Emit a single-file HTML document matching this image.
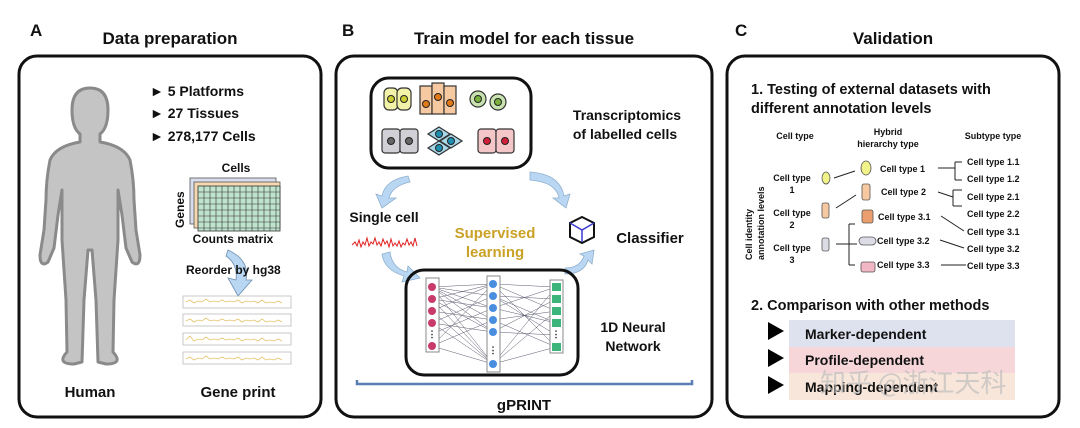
<!DOCTYPE html>
<html><head><meta charset="utf-8"><style>
html,body{margin:0;padding:0;background:#fff}
svg{display:block}
text{font-family:"Liberation Sans",Arial,sans-serif;font-weight:bold;fill:#111}
</style></head><body>
<svg width="1080" height="428" viewBox="0 0 1080 428" xmlns="http://www.w3.org/2000/svg">
<!-- Panel A -->
<text x="30" y="36" font-size="17">A</text>
<text x="170" y="44" font-size="17" text-anchor="middle">Data preparation</text>
<rect x="19" y="56" width="302" height="361" rx="18" fill="none" stroke="#111" stroke-width="3"/>
<!-- human -->
<g fill="#c4c4c4" stroke="#8a8a8a" stroke-width="3" stroke-linejoin="round">
<path d="M90,88 Q108,88 108,110 Q108,128 100,134 L100,142 Q124,146 130,160 Q134,180 134,200 L136,230 L140,255 Q140,268 132,262 L126,248 L122,215 L118,190 L118,240 L114,300 L113,352 Q124,364 106,364 L98,362 L96,300 L92,250 L88,250 L84,300 L82,362 L74,364 Q56,364 67,352 L66,300 L62,240 L62,190 L58,215 L54,248 L48,262 Q40,268 40,255 L44,230 L46,200 Q46,180 50,160 Q56,146 80,142 L80,134 Q72,128 72,110 Q72,88 90,88 Z"/>
</g>
<text x="90" y="397" font-size="15" text-anchor="middle">Human</text>
<g font-size="14">
<text x="150" y="96">► 5 Platforms</text>
<text x="150" y="118">► 27 Tissues</text>
<text x="150" y="141">► 278,177 Cells</text>
</g>
<text x="236" y="172" font-size="12" text-anchor="middle">Cells</text>
<rect x="190" y="178" width="86" height="46" fill="#d8dcec" stroke="#555" stroke-width=".8"/>
<rect x="194" y="182" width="86" height="46" fill="#f5d7b0" stroke="#555" stroke-width=".8"/>
<rect x="198" y="186" width="82" height="45" fill="#bfe3cc" stroke="#333" stroke-width=".8"/>
<g stroke="#333" stroke-width=".6">
<path d="M198,192H280M198,198H280M198,204H280M198,210H280M198,216H280M198,222H280M198,228H280"/>
<path d="M204,186V231M210,186V231M216,186V231M222,186V231M228,186V231M234,186V231M240,186V231M246,186V231M252,186V231M258,186V231M264,186V231M270,186V231M276,186V231"/>
</g>
<text x="0" y="0" font-size="12" transform="translate(184,228) rotate(-90)">Genes</text>
<text x="233" y="243" font-size="12" text-anchor="middle">Counts matrix</text>
<path d="M228,250 Q250,260 246,280 L252,280 L238,296 L228,278 L236,280 Q238,264 226,256 Z" fill="#b9d7f2" stroke="#6d8fb0" stroke-width=".8"/>
<text x="186" y="274" font-size="12">Reorder by  hg38</text>
<g fill="none" stroke-width=".8">
<rect x="183" y="296" width="108" height="12" stroke="#bbb"/>
<rect x="183" y="314" width="108" height="12" stroke="#bbb"/>
<rect x="183" y="333" width="108" height="12" stroke="#bbb"/>
<rect x="183" y="352" width="108" height="12" stroke="#bbb"/>
<path d="M186,302 l4,-2 4,3 4,-2 4,1 4,-3 4,3 4,-1 4,1 4,-2 4,2 4,-1 4,1 4,-2 4,3 4,-2 4,1 4,-1 4,2 4,-3 4,3 4,-1 4,1 4,-2 4,2" stroke="#e6c26a"/>
<path d="M186,321 l4,-2 4,3 4,-2 4,1 4,-3 4,3 4,-1 4,1 4,-2 4,2 4,-1 4,1 4,-2 4,3 4,-2 4,1 4,-1 4,2 4,-3 4,3 4,-1 4,1 4,-2 4,2" stroke="#e6c26a"/>
<path d="M186,340 l4,-4 4,5 4,-2 4,1 4,-3 4,3 4,-1 4,1 4,-2 4,2 4,-1 4,1 4,-2 4,3 4,-2 4,1 4,-1 4,2 4,-3 4,3 4,-1 4,1 4,-2 4,2" stroke="#e6c26a"/>
<path d="M186,359 l4,-2 4,3 4,-2 4,1 4,-3 4,3 4,-1 4,1 4,-2 4,2 4,-1 4,1 4,-2 4,3 4,-2 4,1 4,-1 4,2 4,-3 4,3 4,-1 4,1 4,-2 4,2" stroke="#e6c26a"/>
</g>
<text x="238" y="397" font-size="15" text-anchor="middle">Gene print</text>

<!-- Panel B -->
<text x="342" y="36" font-size="17">B</text>
<text x="524" y="44" font-size="17" text-anchor="middle">Train model for each tissue</text>
<rect x="336" y="56" width="376" height="361" rx="18" fill="none" stroke="#111" stroke-width="3"/>
<rect x="371" y="78" width="160" height="90" rx="18" fill="none" stroke="#111" stroke-width="3"/>
<g stroke="#333" stroke-width="1.2">
<rect x="384" y="88" width="14" height="22" rx="5" fill="#f2f2a8"/><rect x="397" y="88" width="14" height="22" rx="5" fill="#f2f2a8"/>
<rect x="420" y="86" width="12" height="28" fill="#f6c9a0"/><rect x="432" y="83" width="12" height="31" fill="#f6c9a0"/><rect x="444" y="86" width="12" height="28" fill="#f6c9a0"/>
<circle cx="478" cy="99" r="8" fill="#c8e3b0"/><circle cx="498" cy="102" r="8" fill="#c8e3b0"/>
<rect x="382" y="129" width="18" height="24" rx="3" fill="#d0d0d6"/><rect x="400" y="129" width="18" height="24" rx="3" fill="#d0d0d6"/>
<path d="M428,134 l11,-7 11,7 -11,7z M440,141 l11,-7 11,7 -11,7z M428,148 l11,-7 11,7 -11,7z" fill="#a8d8e8"/>
<rect x="478" y="129" width="18" height="24" rx="3" fill="#f4c6c8"/><rect x="496" y="129" width="18" height="24" rx="3" fill="#f4c6c8"/>
</g>
<g stroke="#222" stroke-width="1">
<circle cx="391" cy="99" r="3.5" fill="#cccc33"/><circle cx="404" cy="99" r="3.5" fill="#cccc33"/>
<circle cx="426" cy="104" r="3.5" fill="#e27a16"/><circle cx="438" cy="97" r="3.5" fill="#e27a16"/><circle cx="450" cy="103" r="3.5" fill="#e27a16"/>
<circle cx="478" cy="99" r="3.5" fill="#7ab040"/><circle cx="498" cy="102" r="3.5" fill="#7ab040"/>
<circle cx="391" cy="141" r="3.5" fill="#666"/><circle cx="409" cy="141" r="3.5" fill="#666"/>
<circle cx="439" cy="134" r="3.5" fill="#1f8fb0"/><circle cx="451" cy="141" r="3.5" fill="#1f8fb0"/><circle cx="439" cy="148" r="3.5" fill="#1f8fb0"/>
<circle cx="487" cy="141" r="3.5" fill="#d0203a"/><circle cx="505" cy="141" r="3.5" fill="#d0203a"/>
</g>
<text x="627" y="120" font-size="14" text-anchor="middle">Transcriptomics</text>
<text x="625" y="139" font-size="14" text-anchor="middle">of labelled cells</text>
<g fill="#b9d7f2" stroke="#8fb0cf" stroke-width=".8">
<path d="M408,176 Q385,180 382,196 L376,194 L382,208 L396,198 L389,198 Q392,186 410,182 Z"/>
<path d="M530,172 Q560,174 564,196 L570,194 L566,208 L553,198 L559,198 Q556,182 530,180 Z"/>
<path d="M382,254 Q384,270 404,276 L402,282 L420,278 L408,266 L407,272 Q392,268 390,252 Z"/>
<path d="M565,268 Q580,268 584,256 L580,254 L594,250 L592,264 L588,260 Q584,274 565,274 Z"/>
</g>
<text x="384" y="222" font-size="14" text-anchor="middle">Single cell</text>
<path d="M352,245 l3,-3 2,4 2,-6 2,7 2,-5 2,3 2,-7 2,8 2,-4 2,2 2,-6 2,7 2,-3 2,4 2,-7 2,5 2,-3 2,6 2,-8 2,7 2,-3 2,3 2,-5 2,6 2,-4 2,2 2,-6 2,6 2,-3 2,4 2,-8 2,8" fill="none" stroke="#e02020" stroke-width="1"/>
<text x="495" y="238" font-size="15" text-anchor="middle" style="fill:#c9a227">Supervised</text>
<text x="495" y="257" font-size="15" text-anchor="middle" style="fill:#c9a227">learning</text>
<path d="M582,217 l12,6 v14 l-12,6 -12,-6 v-14z" fill="#fff" stroke="#111" stroke-width="2"/>
<path d="M570,223 l12,7 12,-7 M582,230 v12" fill="none" stroke="#3a3ad0" stroke-width="1.5"/>
<text x="650" y="243" font-size="15" text-anchor="middle">Classifier</text>
<rect x="406" y="270" width="172" height="105" rx="18" fill="none" stroke="#111" stroke-width="3"/>
<g stroke="#5a5a70" stroke-width=".5">
<path d="M432,287L493,284M432,287L493,296M432,287L493,308M432,287L493,320M432,287L493,332M432,287L493,364M432,299L493,284M432,299L493,308M432,299L493,332M432,299L493,364M432,311L493,284M432,311L493,320M432,311L493,364M432,323L493,296M432,323L493,332M432,323L493,364M432,346L493,284M432,346L493,320M432,346L493,364M432,334L493,308"/>
<path d="M493,284L556,287M493,284L556,311M493,284L556,347M493,296L556,299M493,296L556,335M493,308L556,287M493,308L556,323M493,320L556,311M493,320L556,347M493,332L556,299M493,332L556,335M493,364L556,287M493,364L556,311M493,364L556,347M493,296L556,323"/>
</g>
<rect x="426" y="278" width="13" height="74" fill="#fff" stroke="#888"/>
<rect x="487" y="276" width="13" height="96" fill="#fff" stroke="#888"/>
<rect x="550" y="280" width="13" height="73" fill="#fff" stroke="#888"/>
<g fill="#c83a6a"><circle cx="432" cy="287" r="4"/><circle cx="432" cy="299" r="4"/><circle cx="432" cy="311" r="4"/><circle cx="432" cy="323" r="4"/><circle cx="432" cy="346" r="4"/></g>
<g fill="#4a8ee0"><circle cx="493" cy="284" r="4"/><circle cx="493" cy="296" r="4"/><circle cx="493" cy="308" r="4"/><circle cx="493" cy="320" r="4"/><circle cx="493" cy="332" r="4"/><circle cx="493" cy="364" r="4"/></g>
<g fill="#3bb57a"><rect x="552" y="283" width="9" height="8"/><rect x="552" y="295" width="9" height="8"/><rect x="552" y="307" width="9" height="8"/><rect x="552" y="319" width="9" height="8"/><rect x="552" y="343" width="9" height="8"/></g>
<text x="432" y="337" font-size="9" text-anchor="middle">⋮</text><text x="493" y="353" font-size="9" text-anchor="middle">⋮</text><text x="556" y="337" font-size="9" text-anchor="middle">⋮</text>
<text x="633" y="332" font-size="14" text-anchor="middle">1D Neural</text>
<text x="633" y="351" font-size="14" text-anchor="middle">Network</text>
<path d="M357,380 V384 H692 V380" fill="none" stroke="#5b7fb5" stroke-width="2.5"/>
<text x="524" y="410" font-size="15" text-anchor="middle">gPRINT</text>

<!-- Panel C -->
<text x="735" y="36" font-size="17">C</text>
<text x="893" y="44" font-size="17" text-anchor="middle">Validation</text>
<rect x="727" y="56" width="332" height="361" rx="18" fill="none" stroke="#111" stroke-width="3"/>
<text x="751" y="94" font-size="14.5">1. Testing of external datasets with</text>
<text x="751" y="113" font-size="14.5">different annotation levels</text>
<g font-size="9">
<text x="795" y="139" text-anchor="middle">Cell type</text>
<text x="888" y="135" text-anchor="middle">Hybrid</text>
<text x="888" y="147" text-anchor="middle">hierarchy type</text>
<text x="993" y="139" text-anchor="middle">Subtype type</text>
<text x="792" y="181" text-anchor="middle">Cell type</text><text x="792" y="193" text-anchor="middle">1</text>
<text x="792" y="216" text-anchor="middle">Cell type</text><text x="792" y="228" text-anchor="middle">2</text>
<text x="792" y="251" text-anchor="middle">Cell type</text><text x="792" y="263" text-anchor="middle">3</text>
<text x="880" y="172">Cell type 1</text>
<text x="881" y="195">Cell type 2</text>
<text x="878" y="220">Cell type 3.1</text>
<text x="877" y="244">Cell type 3.2</text>
<text x="877" y="268">Cell type 3.3</text>
<text x="967" y="165">Cell type 1.1</text>
<text x="967" y="182">Cell type 1.2</text>
<text x="967" y="200">Cell type 2.1</text>
<text x="967" y="217">Cell type 2.2</text>
<text x="967" y="235">Cell type 3.1</text>
<text x="967" y="252">Cell type 3.2</text>
<text x="967" y="269">Cell type 3.3</text>
</g>
<text x="0" y="0" font-size="9" transform="translate(752,260) rotate(-90)">Cell identity</text>
<text x="0" y="0" font-size="9" transform="translate(764,260) rotate(-90)">annotation levels</text>
<g stroke="#555" stroke-width=".8">
<ellipse cx="826" cy="178" rx="4" ry="6" fill="#f2f28a"/>
<rect x="822" y="203" width="7" height="15" rx="2" fill="#f6c9a0"/>
<rect x="822" y="238" width="7" height="13" rx="2" fill="#dcdce6"/>
<ellipse cx="866" cy="168" rx="5" ry="7" fill="#f2f28a"/>
<rect x="862" y="184" width="8" height="16" rx="2" fill="#f6c9a0"/>
<rect x="862" y="210" width="11" height="13" rx="2" fill="#ec9f6e"/>
<rect x="859" y="237" width="17" height="8" rx="4" fill="#dcdce6"/>
<rect x="861" y="262" width="14" height="10" rx="2" fill="#f2b7c4"/>
</g>
<g fill="none" stroke="#222" stroke-width="1">
<path d="M834,178L855,171M836,208L856,195M836,244H849M849,224V265M849,224H855M849,244H857M849,265H855"/>
<path d="M938,168H955M955,162V180M955,162H962M955,180H962"/>
<path d="M938,192L953,197M953,190V206M953,190H962M953,206H962"/>
<path d="M941,216L964,231M940,240L964,248M941,265H966"/>
</g>
<text x="751" y="310" font-size="14.5">2. Comparison with other methods</text>
<rect x="789" y="320" width="226" height="27" fill="#dde2ee"/>
<rect x="789" y="347" width="226" height="26" fill="#f6d6d8"/>
<rect x="789" y="373" width="226" height="27" fill="#f9e6da"/>
<g fill="#000"><path d="M768,322l16,9-16,9z"/><path d="M768,349l16,9-16,9z"/><path d="M768,376l16,9-16,9z"/></g>
<g font-size="14">
<text x="805" y="339">Marker-dependent</text>
<text x="805" y="365">Profile-dependent</text>
<text x="805" y="392">Mapping-dependent</text>
</g>
<text x="820" y="392" font-size="26" style="font-family:'Noto Sans CJK SC',sans-serif;font-weight:normal;fill:rgba(190,190,190,0.7)">知乎 @浙江天科</text>
</svg>
</body></html>
